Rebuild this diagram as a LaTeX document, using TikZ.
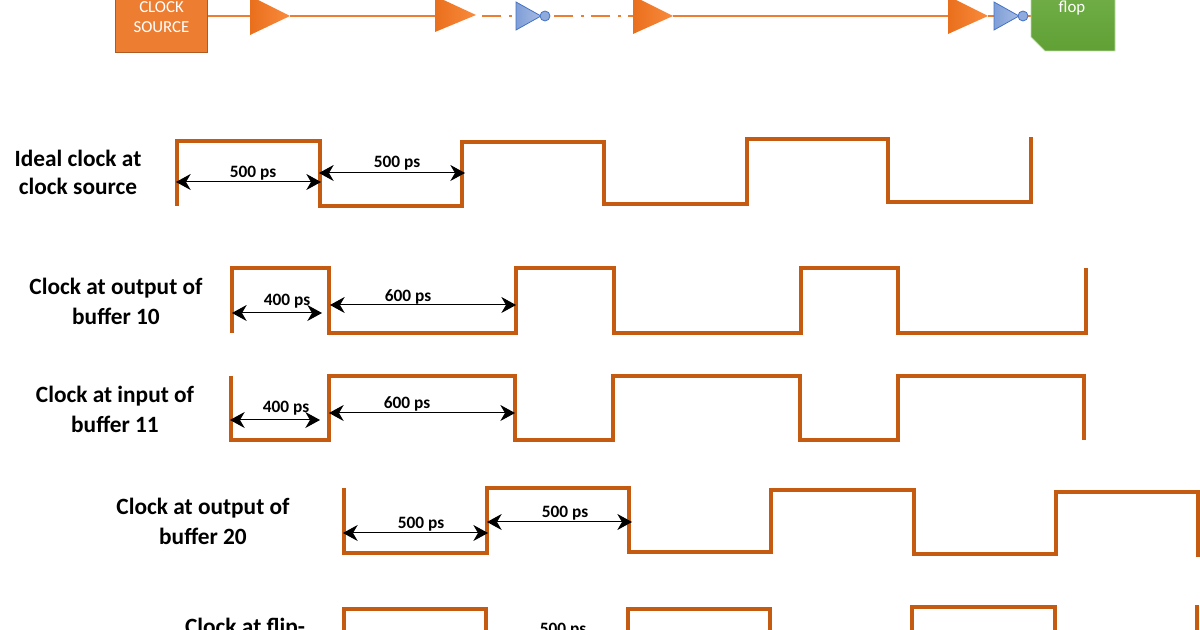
\documentclass[tikz,border=0pt]{standalone}
\usepackage{fontspec}
\setmainfont{Carlito}
\usetikzlibrary{arrows.meta}
\definecolor{wave}{HTML}{C55A11}
\definecolor{clk}{HTML}{ED7D31}
\definecolor{clkd}{HTML}{AE5A21}
\definecolor{bufl}{HTML}{E96F1C}
\definecolor{bufr}{HTML}{F98B3E}
\definecolor{inv}{HTML}{8FAADC}
\definecolor{invd}{HTML}{4472C4}
\definecolor{flopt}{HTML}{70AD47}
\definecolor{flopb}{HTML}{60A034}
\definecolor{flope}{HTML}{BEDCAA}
\tikzset{
 x=0.75pt,y=-0.75pt,
 wavepath/.style={draw=wave,line width=3.1pt,line join=miter,line cap=butt},
 wire/.style={draw=clk,line width=2.1pt},
 dashwire/.style={draw=clk,line width=2.1pt,dash pattern=on 14.25pt off 6pt on 2pt off 5.5pt},
 span/.style={draw=black,line width=0.75pt,{Stealth[length=11pt,width=12pt,inset=3.5pt]}-{Stealth[length=11pt,width=12pt,inset=3.5pt]}},
 buf/.style={left color=bufl,right color=bufr,draw=none},
 invt/.style={left color=inv!80!invd,right color=inv!80!white,draw=invd,line width=0.6pt},
 bubble/.style={circle,fill=inv,draw=invd,line width=0.6pt,inner sep=0pt,minimum size=7.5pt},
 ttl/.style={font=\bfseries\fontsize{17.5}{17.5}\selectfont,text=black,anchor=center,inner sep=0pt},
 dim/.style={font=\bfseries\fontsize{13}{13}\selectfont,text=black,anchor=center,inner sep=0pt},
 white/.style={font=\fontsize{12.6}{12.6}\selectfont,text=white,anchor=center,inner sep=0pt},
}
\begin{document}
\begin{tikzpicture}
\useasboundingbox (0,0) rectangle (1200,630);
\clip (0,0) rectangle (1200,630);
% top chain
\coordinate (b1in) at (250,16); \coordinate (b1out) at (290,16);
\coordinate (b2in) at (435,16); \coordinate (b2out) at (482,16);
\coordinate (i1in) at (516,16); \coordinate (i1out) at (554,16);
\coordinate (b3in) at (633,16); \coordinate (b3out) at (673,16);
\coordinate (b4in) at (948,16); \coordinate (b4out) at (988,16);
\coordinate (i2in) at (994,16);
\node[draw=clkd,fill=clk,line width=1.2pt,minimum width=69pt,minimum height=55pt,inner sep=0pt] (src) at (161.5,16) {};
\draw[wire] (src.east|-b1in) -- (b1in);
\draw[wire] (b1out) -- (b2in);
\draw[dashwire] (b2out) -- (i1in);
\draw[dashwire] (i1out) -- (b3in);
\draw[wire] (b3out) -- (b4in);
\draw[wire] (b4out) -- (i2in);
\node[white] (srct1) at (161.5,7) {CLOCK};
\node[white] (srct2) at (161.5,27) {SOURCE};
\path[buf] (250,-4) -- (290,16) -- (250,35) -- cycle;
\path[buf] (435,-4) -- (476,15) -- (435,32) -- cycle;
\path[buf] (633,-4) -- (673,16) -- (633,34) -- cycle;
\path[buf] (948,-4) -- (988,16) -- (948,34) -- cycle;
\draw[invt] (516,2) -- (541,16) -- (516,30) -- cycle;
\node[bubble] (bub1) at (545,16) {};
\draw[invt] (994,2) -- (1019,16) -- (994,30) -- cycle;
\draw[wire] (1027,16) -- (1031,16);
\node[bubble] (bub2) at (1023,16) {};
\path[top color=flopt,bottom color=flopb,draw=flope,line width=0.6pt] (1031,-5) -- (1115,-5) -- (1115,51) -- (1045,51) -- (1031,37) -- cycle;
\node[white] (flop) at (1072,8) {flop};
% titles
\node[ttl] (t1a) at (78,158) {Ideal clock at};
\node[ttl] (t1b) at (78,186) {clock source};
\node[ttl] (t2a) at (116,288) {Clock at output of};
\node[ttl] (t2b) at (116,316) {buffer 10};
\node[ttl] (t3a) at (115,396) {Clock at input of};
\node[ttl] (t3b) at (115,424) {buffer 11};
\node[ttl] (t4a) at (203,508) {Clock at output of};
\node[ttl] (t4b) at (203,536) {buffer 20};
\node[ttl] (t5a) at (245,628) {Clock at flip-};
% waves
\draw[wavepath] (177,206) -- (177,141) -- (320,141) -- (320,206) -- (462,206) -- (462,142) -- (604,142) -- (604,204) -- (747,204) -- (747,139) -- (888,139) -- (888,202) -- (1031,202) -- (1031,137);
\draw[wavepath] (232,333) -- (232,268) -- (329,268) -- (329,333) -- (516,333) -- (516,268) -- (614,268) -- (614,333) -- (801,333) -- (801,268) -- (898,268) -- (898,333) -- (1086,333) -- (1086,268);
\draw[wavepath] (231,376) -- (231,440) -- (329,440) -- (329,376) -- (515,376) -- (515,440) -- (613,440) -- (613,376) -- (800,376) -- (800,440) -- (898,440) -- (898,376) -- (1084,376) -- (1084,440);
\draw[wavepath] (344,488) -- (344,553) -- (487,553) -- (487,488) -- (629,488) -- (629,552) -- (771,552) -- (771,490) -- (914,490) -- (914,554) -- (1056,554) -- (1056,492) -- (1198.5,492) -- (1198.5,557);
\draw[wavepath] (344,640) -- (344,609) -- (486,609) -- (486,640);
\draw[wavepath] (628,640) -- (628,609) -- (770,609) -- (770,640);
\draw[wavepath] (912,640) -- (912,607) -- (1055,607) -- (1055,640);
\draw[wavepath] (1197,640) -- (1197,605);
% dimension arrows
\coordinate (a1l) at (176,182); \coordinate (a1r) at (321,182);
\coordinate (a2l) at (319,173); \coordinate (a2r) at (465,173);
\coordinate (a3l) at (232,313); \coordinate (a3r) at (322,313);
\coordinate (a4l) at (330,305); \coordinate (a4r) at (516,305);
\coordinate (a5l) at (230,420); \coordinate (a5r) at (320,420);
\coordinate (a6l) at (329,413); \coordinate (a6r) at (515,413);
\coordinate (a7l) at (343,533); \coordinate (a7r) at (488,533);
\coordinate (a8l) at (487,522); \coordinate (a8r) at (632,522);
\foreach \p in {1,...,8}{\draw[span] (a\p l) -- (a\p r);}
\node[dim] (d1) at (253,173) {500 ps};
\node[dim] (d2) at (397,163) {500 ps};
\node[dim] (d3) at (287,301) {400 ps};
\node[dim] (d4) at (408,297) {600 ps};
\node[dim] (d5) at (286,408) {400 ps};
\node[dim] (d6) at (407,404) {600 ps};
\node[dim] (d7) at (421,524) {500 ps};
\node[dim] (d8) at (565,513) {500 ps};
\node[dim] (d9) at (563,630) {500 ps};
\end{tikzpicture}
\end{document}
